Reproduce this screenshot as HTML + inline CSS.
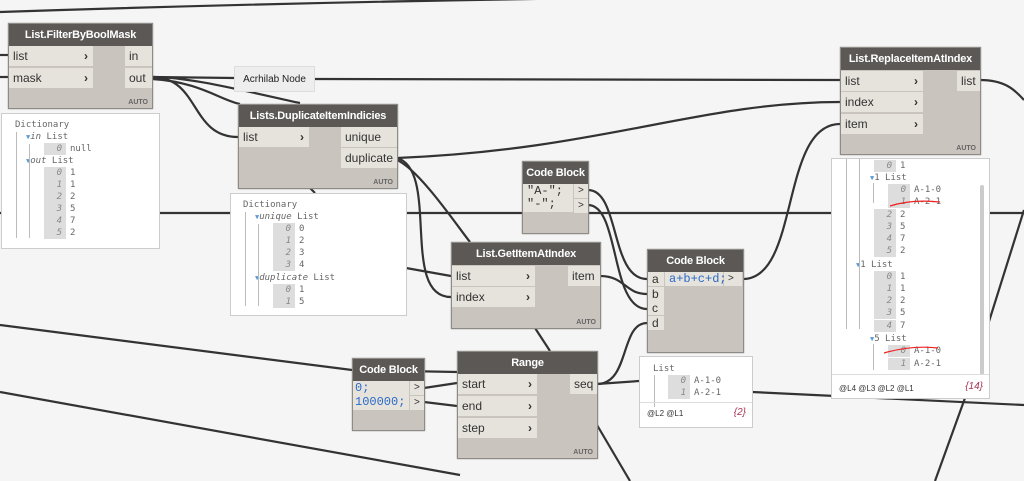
<!DOCTYPE html>
<html><head><meta charset="utf-8"><style>
*{box-sizing:border-box;margin:0;padding:0}
body{width:1024px;height:481px;overflow:hidden;background:#f5f5f5;font-family:"Liberation Sans",sans-serif;position:relative}
svg{position:absolute;left:0;top:0}
.n{position:absolute;background:#c9c4bd;border:1px solid #8e8a85;box-shadow:0 0 1px #777}
.h{background:#5b5855;color:#fff;font-weight:bold;font-size:11px;letter-spacing:-0.2px;text-align:center;height:22px;line-height:22px;white-space:nowrap}
.r{position:absolute;background:#e6e2dc;font-size:12px;color:#333;height:20px;line-height:20px;padding-left:4px}
.r b{position:absolute;right:5px;top:0;font-weight:bold}
.auto{position:absolute;right:4px;bottom:2px;font-size:7px;font-weight:bold;color:#666}
.p{position:absolute;background:#fff;border:1px solid #ccc;font-family:"DejaVu Sans Mono","Liberation Mono",monospace;font-size:9px;color:#666}
.t{position:absolute;white-space:nowrap;line-height:12px}
.ix{display:inline-block;background:#ddd;color:#888;width:22px;text-align:right;padding-right:4px;margin-right:4px;font-style:italic}
.k{font-style:italic}
.tri{color:#5b9bd5;font-size:7px}
.vl{position:absolute;width:1px;background:#bbb}
.ft{position:absolute;font-family:"Liberation Sans",sans-serif;font-size:8px;color:#333}
</style></head><body>
<svg width="1024" height="481" fill="none" stroke="#333" stroke-width="2.2">
<path d="M0 12 Q300 2 600 -2"/>
<path d="M0 55 L8 55"/><path d="M0 77 L8 77"/>
<path d="M152 77 L314 79 L840 80"/>
<path d="M152 77 C200 77 190 137 238 137"/>
<path d="M152 77 C190 77 240 90 300 103"/>
<path d="M152 79 C200 82 220 100 240 104"/>
<path d="M0 213 L1024 213"/>
<path d="M397 158 C600 150 700 102 840 102"/>
<path d="M397 158 C440 170 400 297 451 297"/>
<path d="M397 160 C420 170 460 230 470 242"/>
<path d="M406 268 L451 276"/>
<path d="M310 188 L315 193"/>
<path d="M588 190 C620 190 610 279 647 279"/>
<path d="M588 205 C620 205 610 309 647 309"/>
<path d="M600 276 C625 276 625 294 647 294"/>
<path d="M597 384 C630 384 620 323 647 323"/>
<path d="M597 384 L639 381"/>
<path d="M743 279 C800 279 780 124 840 124"/>
<path d="M535 328 L550 351"/>
<path d="M0 325 L352 370 L457 372"/>
<path d="M0 392 L460 475"/>
<path d="M424 388 L457 383"/><path d="M424 402 L457 406"/>
<path d="M597 425 L630 481"/>
<path d="M752 392 L1024 405"/>
<path d="M980 80 C1005 80 1015 90 1024 100"/>
<path d="M935 481 L965 398 L1024 210"/>
</svg>

<div class="n" style="left:8px;top:23px;width:145px;height:86px"><div class="h">List.FilterByBoolMask</div>
<div class="r" style="left:0;top:22px;width:84px">list<b>›</b></div>
<div class="r" style="left:0;top:44px;width:84px">mask<b>›</b></div>
<div class="r" style="left:116px;top:22px;width:27px">in</div>
<div class="r" style="left:116px;top:44px;width:27px">out</div><div class="auto">AUTO</div></div>

<div class="p" style="left:1px;top:113px;width:159px;height:136px">
<div class="t" style="left:13px;top:5px">Dictionary</div>
<div class="t" style="left:24px;top:17px"><span class="tri">▼</span><span class="k">in</span> List</div>
<div class="t" style="left:42px;top:29px"><span class="ix">0</span>null</div>
<div class="t" style="left:24px;top:41px"><span class="tri">▼</span><span class="k">out</span> List</div>
<div class="t" style="left:42px;top:53px"><span class="ix">0</span>1</div>
<div class="t" style="left:42px;top:65px"><span class="ix">1</span>1</div>
<div class="t" style="left:42px;top:77px"><span class="ix">2</span>2</div>
<div class="t" style="left:42px;top:89px"><span class="ix">3</span>5</div>
<div class="t" style="left:42px;top:101px"><span class="ix">4</span>7</div>
<div class="t" style="left:42px;top:113px"><span class="ix">5</span>2</div>
<div class="vl" style="left:14px;top:18px;height:106px"></div><div class="vl" style="left:27px;top:30px;height:94px"></div></div>

<div style="position:absolute;left:234px;top:66px;width:81px;height:26px;background:#eee;border:1px solid #ddd;font-size:10px;line-height:26px;text-align:center;color:#222">Acrhilab Node</div>

<div class="n" style="left:238px;top:104px;width:160px;height:85px"><div class="h">Lists.DuplicateItemIndicies</div>
<div class="r" style="left:0;top:22px;width:70px">list<b>›</b></div>
<div class="r" style="left:102px;top:22px;width:56px">unique</div>
<div class="r" style="left:102px;top:43px;width:56px">duplicate</div><div class="auto">AUTO</div></div>

<div class="p" style="left:230px;top:193px;width:177px;height:123px">
<div class="t" style="left:12px;top:5px">Dictionary</div>
<div class="t" style="left:24px;top:17px"><span class="tri">▼</span><span class="k">unique</span> List</div>
<div class="t" style="left:42px;top:29px"><span class="ix">0</span>0</div>
<div class="t" style="left:42px;top:41px"><span class="ix">1</span>2</div>
<div class="t" style="left:42px;top:53px"><span class="ix">2</span>3</div>
<div class="t" style="left:42px;top:65px"><span class="ix">3</span>4</div>
<div class="t" style="left:24px;top:78px"><span class="tri">▼</span><span class="k">duplicate</span> List</div>
<div class="t" style="left:42px;top:90px"><span class="ix">0</span>1</div>
<div class="t" style="left:42px;top:102px"><span class="ix">1</span>5</div>
<div class="vl" style="left:14px;top:18px;height:94px"></div><div class="vl" style="left:27px;top:30px;height:82px"></div></div>

<div class="n" style="left:522px;top:161px;width:67px;height:73px"><div class="h">Code Block</div>
<div class="r" style="left:0;top:22px;width:50px;height:28px;font-family:'Liberation Mono',monospace;line-height:13px;padding-top:1px">"A-";<br>"-";</div>
<div class="r" style="left:51px;top:22px;width:14px;font-size:10px;height:14px;line-height:14px">&gt;</div>
<div class="r" style="left:51px;top:37px;width:14px;font-size:10px;height:14px;line-height:14px">&gt;</div></div>

<div class="n" style="left:451px;top:242px;width:150px;height:87px"><div class="h">List.GetItemAtIndex</div>
<div class="r" style="left:0;top:23px;width:83px">list<b>›</b></div>
<div class="r" style="left:0;top:44px;width:83px">index<b>›</b></div>
<div class="r" style="left:116px;top:23px;width:32px">item</div><div class="auto">AUTO</div></div>

<div class="n" style="left:647px;top:249px;width:97px;height:104px"><div class="h">Code Block</div>
<div class="r" style="left:0;top:22px;width:16px;height:14px;line-height:14px">a</div>
<div class="r" style="left:0;top:37px;width:16px;height:14px;line-height:14px">b</div>
<div class="r" style="left:0;top:51px;width:16px;height:14px;line-height:14px">c</div>
<div class="r" style="left:0;top:66px;width:16px;height:14px;line-height:14px">d</div>
<div class="r" style="left:17px;top:22px;width:58px;height:14px;line-height:14px;color:#2a6ac9;font-family:'Liberation Mono',monospace">a+b+c+d;</div>
<div class="r" style="left:76px;top:22px;width:18px;height:14px;line-height:14px;font-size:10px">&gt;</div></div>

<div class="n" style="left:457px;top:351px;width:141px;height:108px"><div class="h">Range</div>
<div class="r" style="left:0;top:22px;width:79px">start<b>›</b></div>
<div class="r" style="left:0;top:44px;width:79px">end<b>›</b></div>
<div class="r" style="left:0;top:66px;width:79px">step<b>›</b></div>
<div class="r" style="left:112px;top:22px;width:27px">seq</div><div class="auto">AUTO</div></div>

<div class="n" style="left:352px;top:358px;width:73px;height:73px"><div class="h">Code Block</div>
<div class="r" style="left:0;top:22px;width:56px;height:29px;font-family:'Liberation Mono',monospace;line-height:14px;color:#2a6ac9;padding-left:2px">0;<br>100000;</div>
<div class="r" style="left:57px;top:22px;width:14px;font-size:10px;height:14px;line-height:14px">&gt;</div>
<div class="r" style="left:57px;top:37px;width:14px;font-size:10px;height:14px;line-height:14px">&gt;</div></div>

<div class="p" style="left:639px;top:356px;width:114px;height:72px">
<div class="t" style="left:13px;top:6px">List</div>
<div class="t" style="left:28px;top:18px"><span class="ix">0</span>A-1-0</div>
<div class="t" style="left:28px;top:30px"><span class="ix">1</span>A-2-1</div>
<div class="vl" style="left:14px;top:18px;height:32px"></div>
<div style="position:absolute;left:0;top:45px;width:112px;border-top:1px solid #ddd"></div>
<div class="ft" style="left:7px;top:52px">@L2 @L1</div><div class="ft" style="right:6px;top:50px;font-size:10px;color:#a35;font-style:italic">{2}</div></div>

<div class="n" style="left:840px;top:47px;width:141px;height:108px"><div class="h">List.ReplaceItemAtIndex</div>
<div class="r" style="left:0;top:23px;width:82px">list<b>›</b></div>
<div class="r" style="left:0;top:44px;width:82px">index<b>›</b></div>
<div class="r" style="left:0;top:66px;width:82px">item<b>›</b></div>
<div class="r" style="left:116px;top:23px;width:23px">list</div><div class="auto">AUTO</div></div>

<div class="p" style="left:831px;top:158px;width:159px;height:241px">
<div class="t" style="left:42px;top:1px"><span class="ix">0</span>1</div>
<div class="t" style="left:38px;top:13px"><span class="tri">▼</span>1 List</div>
<div class="t" style="left:56px;top:25px"><span class="ix">0</span>A-1-0</div>
<div class="t" style="left:56px;top:37px"><span class="ix">1</span>A-2-1</div>
<div class="t" style="left:42px;top:50px"><span class="ix">2</span>2</div>
<div class="t" style="left:42px;top:62px"><span class="ix">3</span>5</div>
<div class="t" style="left:42px;top:74px"><span class="ix">4</span>7</div>
<div class="t" style="left:42px;top:86px"><span class="ix">5</span>2</div>
<div class="t" style="left:24px;top:100px"><span class="tri">▼</span>1 List</div>
<div class="t" style="left:42px;top:112px"><span class="ix">0</span>1</div>
<div class="t" style="left:42px;top:124px"><span class="ix">1</span>1</div>
<div class="t" style="left:42px;top:136px"><span class="ix">2</span>2</div>
<div class="t" style="left:42px;top:148px"><span class="ix">3</span>5</div>
<div class="t" style="left:42px;top:161px"><span class="ix">4</span>7</div>
<div class="t" style="left:38px;top:174px"><span class="tri">▼</span>5 List</div>
<div class="t" style="left:56px;top:186px"><span class="ix">0</span>A-1-0</div>
<div class="t" style="left:56px;top:199px"><span class="ix">1</span>A-2-1</div>
<div class="vl" style="left:14px;top:0;height:170px;top:0"></div>
<div class="vl" style="left:27px;top:0;height:120px"></div>
<div class="vl" style="left:27px;top:110px;height:60px"></div>
<div class="vl" style="left:41px;top:24px;height:20px"></div>
<div class="vl" style="left:41px;top:185px;height:26px"></div>
<div style="position:absolute;left:148px;top:26px;width:4px;height:190px;background:#ccc;border-radius:2px"></div>
<svg width="159" height="241" style="position:absolute;left:0;top:0" stroke="#e22" stroke-width="1.2" fill="none"><path d="M58 47 Q80 40 108 43"/><path d="M52 194 Q80 186 106 189"/></svg>
<div style="position:absolute;left:0;top:215px;width:157px;border-top:1px solid #ddd"></div>
<div class="ft" style="left:7px;top:225px">@L4 @L3 @L2 @L1</div><div class="ft" style="right:6px;top:222px;font-size:10px;color:#a35;font-style:italic">{14}</div></div>
</body></html>
